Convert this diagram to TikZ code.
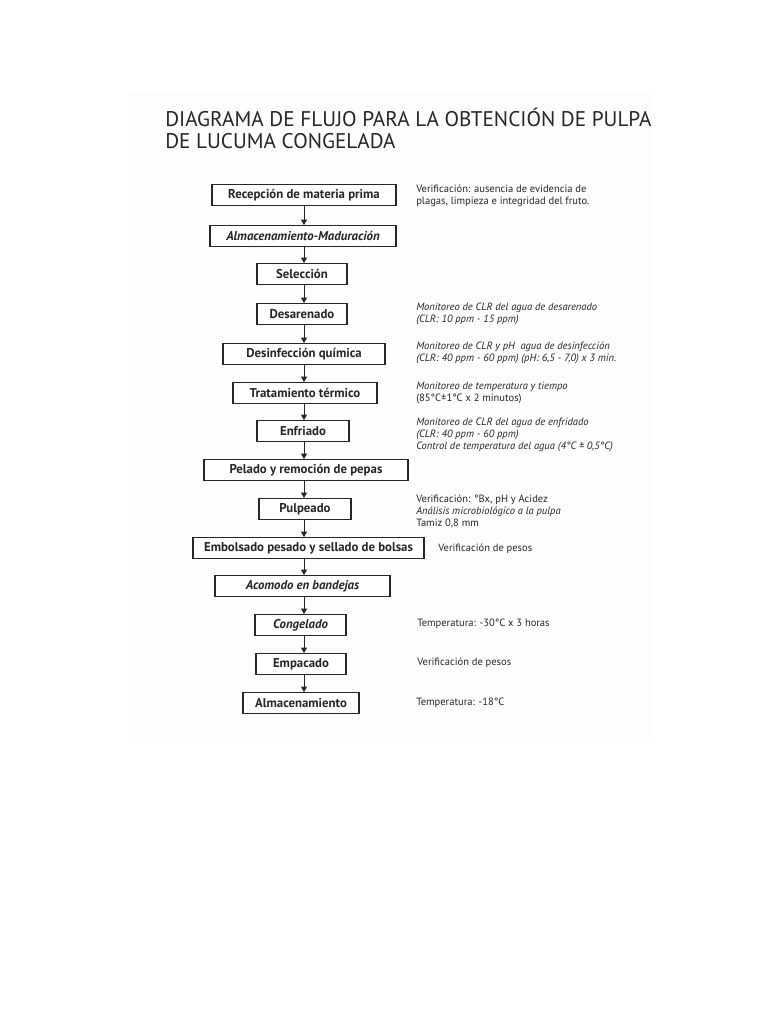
\documentclass[tikz,border=0pt]{standalone}
\usepackage{fontspec}
\setmainfont{PT Sans}
\usetikzlibrary{arrows.meta}
\definecolor{ink}{HTML}{262626}
\begin{document}
\begin{tikzpicture}[x=0.75pt,y=-0.75pt,
  stepbox/.style={draw=ink,line width=0.8pt,fill=white,text=ink,minimum width=#1,minimum height=15.75pt,inner sep=0pt,font=\fontsize{9.6}{11}\selectfont\bfseries},
  note/.style={anchor=west,align=left,inner sep=0pt,text=ink,font=\fontsize{7.9}{9}\selectfont},
  arr/.style={draw=ink,line width=0.6pt,-{Triangle[width=4.5pt,length=4pt]}},
  ttl/.style={anchor=base west,inner sep=0pt,text=ink,font=\fontsize{15.9}{17}\selectfont}]
\useasboundingbox (0,0) rectangle (768,1024);
\fill[white] (0,0) rectangle (768,1024);
\fill[black!0.7] (128,92) rectangle (653,743);
% title
\node[ttl] (t1) at (165,126) {DIAGRAMA DE FLUJO PARA LA OBTENCIÓN DE PULPA};
\node[ttl] (t2) at (165,148) {DE LUCUMA CONGELADA};
% column of arrows
\coordinate (ax) at (304,0);
% boxes
\node[stepbox=138pt]   (b1)  at (304,195)   {Recepción de materia prima};
\node[stepbox=139.5pt] (b2)  at (303,236)   {\itshape Almacenamiento-Maduración};
\node[stepbox=67.5pt]  (b3)  at (302,274)   {Selección};
\node[stepbox=67.5pt]  (b4)  at (302,314)   {Desarenado};
\node[stepbox=121.5pt] (b5)  at (304,354)   {Desinfección química};
\node[stepbox=108pt]   (b6)  at (305,393)   {Tratamiento térmico};
\node[stepbox=69pt]    (b7)  at (303,431)   {Enfriado};
\node[stepbox=153pt]   (b8)  at (306,470)   {Pelado y remoción de pepas};
\node[stepbox=69pt]    (b9)  at (305,509)   {Pulpeado};
\node[stepbox=173.25pt](b10) at (308.5,548) {Embolsado pesado y sellado de bolsas};
\node[stepbox=131.25pt](b11) at (302.5,586) {\itshape Acomodo en bandejas};
\node[stepbox=68.25pt] (b12) at (300.5,625) {\itshape Congelado};
\node[stepbox=67.5pt]  (b13) at (301,664)   {Empacado};
\node[stepbox=87pt]    (b14) at (301,703)   {Almacenamiento};
% arrows
\foreach \a/\b in {b1/b2,b2/b3,b3/b4,b4/b5,b5/b6,b6/b7,b7/b8,b8/b9,b9/b10,b10/b11,b11/b12,b12/b13,b13/b14}
  \draw[arr] (\a.south -| ax) -- (\b.north -| ax);
% notes
\node[note] (n1) at (416,196) {Verificación: ausencia de evidencia de\\plagas, limpieza e integridad del fruto.};
\node[note] (n2) at (416,313.5) {\itshape Monitoreo de CLR del agua de desarenado\\\itshape (CLR: 10 ppm - 15 ppm)};
\node[note] (n3) at (416,352.5) {\itshape Monitoreo de CLR y pH \ agua de desinfección\\\itshape (CLR: 40 ppm - 60 ppm) (pH: 6,5 - 7,0) x 3 min.};
\node[note] (n4) at (416,392.5) {\itshape Monitoreo de temperatura y tiempo\\(85°C±1°C x 2 minutos)};
\node[note] (n5) at (416,435) {\itshape Monitoreo de CLR del agua de enfridado\\\itshape (CLR: 40 ppm - 60 ppm)\\\itshape Control de temperatura del agua (4°C ± 0,5°C)};
\node[note] (n6) at (416,511) {Verificación: °Bx, pH y Acidez\\\itshape Análisis microbiológico a la pulpa\\Tamiz 0,8 mm};
\node[note] (n7) at (438,549) {Verificación de pesos};
\node[note] (n8) at (417,624) {Temperatura: -30°C x 3 horas};
\node[note] (n9) at (417,663) {Verificación de pesos};
\node[note] (n10) at (416,703) {Temperatura: -18°C};
\end{tikzpicture}
\end{document}
